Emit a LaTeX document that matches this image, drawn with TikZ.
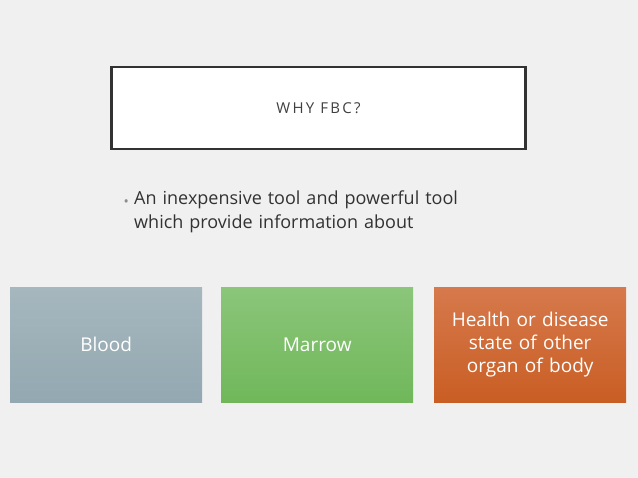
\documentclass[tikz,border=0pt]{standalone}
\usepackage{fontspec}
\setmainfont{Open Sans}
\begin{document}
\begin{tikzpicture}[x=1pt,y=-1pt,
  card/.style={anchor=north west,minimum width=192pt,minimum height=115pt,inner sep=0pt,text width=180pt,align=center,text=white,font=\fontsize{19}{23}\selectfont}]
\fill[fill={rgb,255:red,240;green,240;blue,240}] (0,0) rectangle (638,478);
\useasboundingbox (0,0) rectangle (638,478);
\node[draw={rgb,255:red,50;green,50;blue,50},line width=2.5pt,fill=white,minimum width=414pt,minimum height=82pt,inner sep=0pt,
  font=\fontsize{15}{18}\selectfont\addfontfeatures{LetterSpace=15},text={rgb,255:red,64;green,64;blue,64}] (title) at (318.5,108) {WHY FBC?};
\node[anchor=north west,text width=400pt,align=left,inner sep=0pt,font=\fontsize{18}{24}\selectfont,text={rgb,255:red,50;green,50;blue,50}] (bul) at (134,191) {An inexpensive tool and powerful tool\\which provide information about};
\node[anchor=east,inner sep=0pt,text={rgb,255:red,140;green,140;blue,140},font=\fontsize{14}{16}\selectfont] (dot) at (129,203) {•};
\node[card,top color={rgb,255:red,166;green,183;blue,190},bottom color={rgb,255:red,147;green,168;blue,177}] (blood) at (10,287) {Blood};
\node[card,top color={rgb,255:red,139;green,198;blue,122},bottom color={rgb,255:red,112;green,183;blue,90}] (marrow) at (221,287) {Marrow};
\node[card,top color={rgb,255:red,214;green,121;blue,76},bottom color={rgb,255:red,201;green,94;blue,36}] (health) at (434,287) {Health or disease state of other organ of body};
\end{tikzpicture}
\end{document}
